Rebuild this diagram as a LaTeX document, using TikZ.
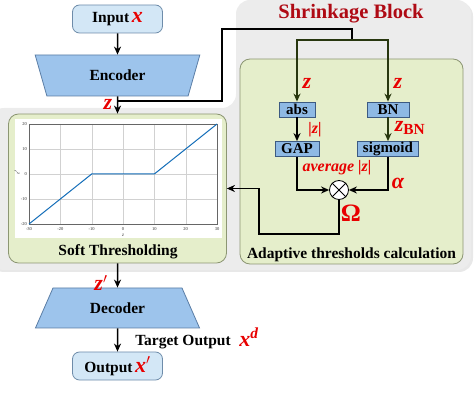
\documentclass[tikz,border=0pt]{standalone}
\usepackage{fontspec}
\setmainfont{Liberation Serif}
\usetikzlibrary{arrows.meta,shapes.geometric}
\definecolor{bggray}{RGB}{236,236,236}
\definecolor{gfill}{RGB}{229,238,203}
\definecolor{gdraw}{RGB}{140,150,115}
\definecolor{iofill}{RGB}{211,231,246}
\definecolor{iodraw}{RGB}{110,140,170}
\definecolor{cdfill}{RGB}{157,196,236}
\definecolor{cddraw}{RGB}{90,125,165}
\definecolor{opfill}{RGB}{142,185,228}
\definecolor{opdraw}{RGB}{60,90,130}
\definecolor{vred}{RGB}{232,0,0}
\definecolor{tred}{RGB}{175,10,20}
\definecolor{pblue}{RGB}{20,110,185}
\definecolor{olivec}{RGB}{40,55,15}
\tikzset{
 lbl/.style={font=\fontsize{15.5}{15.5}\selectfont\bfseries, inner sep=0pt},
 var/.style={font=\fontsize{22}{22}\selectfont\bfseries\itshape, text=vred, inner sep=0pt},
 iobox/.style={draw=iodraw, fill=iofill, rounded corners=7pt, line width=0.8pt, minimum width=90pt, minimum height=28pt, inner sep=0pt, font=\fontsize{15.5}{15.5}\selectfont\bfseries},
 codec/.style={trapezium, trapezium stretches=true, draw=cddraw, fill=cdfill, line width=0.8pt, inner sep=0pt, font=\fontsize{15.5}{15.5}\selectfont\bfseries},
 opbox/.style={draw=opdraw, fill=opfill, line width=0.8pt, minimum height=15pt, inner sep=0pt, font=\fontsize{15}{15}\selectfont\bfseries},
 panel/.style={draw=gdraw, fill=gfill, rounded corners=10pt, line width=0.8pt, inner sep=0pt},
 conn/.style={line width=1.5pt, -{Stealth[length=8pt,width=7pt]}},
 wire/.style={line width=1.5pt},
 tick/.style={font=\fontsize{4.5}{4.5}\selectfont, inner sep=0pt, text=black!80},
}
\begin{document}
\begin{tikzpicture}[x=1pt,y=-1pt]
\useasboundingbox (0,0) rectangle (474,403);
% gray shrinkage background
\fill[black!9, rounded corners=14pt] (-10,110) -- (238,110) -- (238,2) -- (473,2) -- (473,272) -- (-10,272) -- cycle;
\fill[bggray, rounded corners=14pt] (-10,108) -- (236,108) -- (236,0) -- (471,0) -- (471,270) -- (-10,270) -- cycle;
\node[font=\fontsize{20.5}{20.5}\selectfont\bfseries, text=tred, inner sep=0pt] (title) at (351,14) {Shrinkage Block};

% panels
\node[panel, minimum width=218pt, minimum height=149pt] (soft) at (117.5,188.5) {};
\node[panel, minimum width=223pt, minimum height=205pt] (adap) at (351.5,161.5) {};
\node[lbl] (softlbl) at (118,252) {Soft Thresholding};
\node[lbl] (adaplbl) at (351.5,255) {Adaptive thresholds calculation};

% plot
\fill[white] (15,119) rectangle (222,238);
\foreach \gx in {29,60.33,91.67,123,154.33,185.67,217} \draw[black!18, line width=0.3pt] (\gx,124) -- (\gx,224);
\foreach \gy in {124,149,174,199,224} \draw[black!18, line width=0.3pt] (29,\gy) -- (217,\gy);
\draw[black!60, line width=0.4pt] (29,124) rectangle (217,224);
\draw[pblue, line width=1pt] (29,224) -- (91.67,174) -- (154.33,174) -- (217,124);
\foreach \gx/\t in {29/-30,60.33/-20,91.67/-10,123/0,154.33/10,185.67/20,217/30}
  \node[tick] (xt\t) at (\gx,229.5) {\t};
\foreach \gy/\t in {124/20,149/10,174/0,199/-10,224/-20}
  \node[tick, anchor=east] (yt\t) at (27,\gy) {\t};
\node[tick, font=\fontsize{5}{5}\selectfont\itshape] (xlab) at (123,235) {z};
\node[tick, font=\fontsize{5}{5}\selectfont\itshape, rotate=90] (ylab) at (17,172) {z$'$};

% main chain
\node[iobox] (in) at (117.5,19) {Input\,{\color{vred}\fontsize{22}{22}\selectfont\itshape x}};
\node[codec, shape border rotate=180, trapezium left angle=66.9, trapezium right angle=66.9, minimum width=165pt, minimum height=41pt] (enc) at (117.5,75.5) {Encoder};
\node[codec, trapezium left angle=55.5, trapezium right angle=55.5, minimum width=165pt, minimum height=40pt] (dec) at (117.5,308) {Decoder};
\node[iobox] (out) at (117.5,366) {Output\,{\color{vred}\fontsize{22}{22}\selectfont\itshape x$'$}};

\draw[conn] (in) -- (enc);
\draw[conn] (enc) -- (soft);
\draw[conn] (soft) -- (dec);
\draw[conn] (dec) -- (out);

\node[var] (zenc) at (108,104) {z};
\node[var] (zp) at (101,283) {z$'$};
\node[lbl] (target) at (183,342) {Target Output};
\node[var] (xd) at (249,337) {x\textsuperscript{d}};

% operation boxes
\node[opbox, minimum width=36pt] (abs) at (297,109.5) {abs};
\node[opbox, minimum width=42pt] (bn) at (388,109.5) {BN};
\node[opbox, minimum width=44pt] (gap) at (297,149) {GAP};
\node[opbox, minimum width=61pt] (sig) at (388,149) {sigmoid};
\node[circle, draw, fill=white, line width=0.8pt, minimum size=19pt, inner sep=0pt] (m) at (339,190) {};
\draw[line width=0.8pt] (m.north west) -- (m.south east) (m.north east) -- (m.south west);

% branch wiring
\coordinate (br) at (117.5,101);
\coordinate (c1) at (222,101);
\coordinate (c2) at (222,29);
\coordinate (c3) at (352,29);
\coordinate (c4) at (352,40);
\draw[wire] (br) -- (c1) -- (c2) -- (c3) -- (c4);
\draw[conn, draw=olivec] (c4) -| (abs);
\draw[conn, draw=olivec] (c4) -| (bn);
\draw[conn] (abs) -- (gap);
\draw[conn, draw=olivec] (bn) -- (sig);
\draw[conn] (gap) |- (m);
\draw[conn] (sig) |- (m);
\coordinate (c5) at (259,234);
\draw[conn] (m) |- (c5) |- (soft);

% red labels
\node[var] (z1) at (307,83) {z};
\node[var] (z2) at (398,83) {z};
\node[var, font=\fontsize{16}{16}\selectfont\bfseries\itshape] (absz) at (315,130) {|z|};
\node[var] (zbn) at (410,128) {z\textsubscript{\upshape BN}};
\node[var, font=\fontsize{16}{16}\selectfont\bfseries\itshape] (avg) at (337,168) {average |z|};
\node[var] (alpha) at (398,183) {α};
\node[var, font=\fontsize{25}{25}\selectfont\bfseries] (omega) at (351,213) {Ω};
\end{tikzpicture}
\end{document}
